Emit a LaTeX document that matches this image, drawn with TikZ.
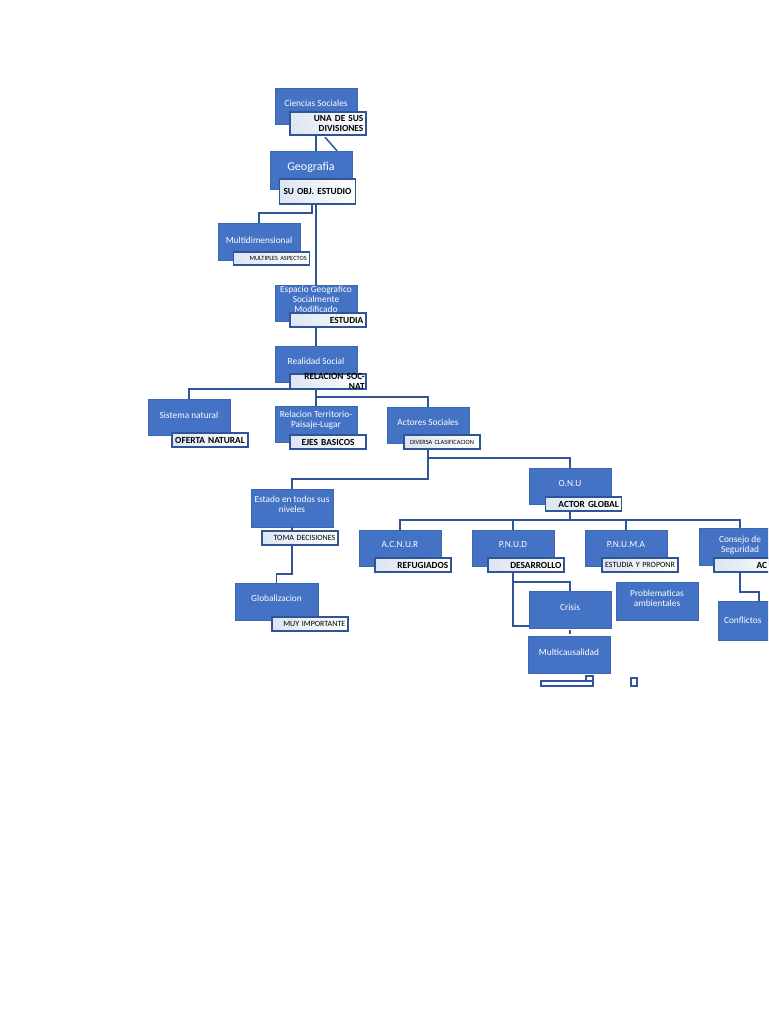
\documentclass[tikz,border=0pt]{standalone}
\usepackage{fontspec}
\setmainfont{Carlito}
\usetikzlibrary{calc}
\definecolor{bfill}{HTML}{4472C4}
\definecolor{lcol}{HTML}{2F5597}
\definecolor{lblfill}{HTML}{DCE5F3}
\tikzset{
  bluebox/.style={rectangle, fill=bfill, draw=bfill!90!black, line width=0.3pt,
    minimum width=61.5pt, minimum height=27pt, inner sep=0pt},
  btext/.style={text=white, font=\fontsize{7}{7.5}\selectfont, align=center, inner sep=0pt},
  lbl/.style={rectangle, draw=lcol, line width=0.9pt, left color=lblfill, right color=white,
    minimum width=57pt, minimum height=10.5pt, inner xsep=2pt, inner ysep=0pt,
    font=\bfseries\fontsize{7}{8}\selectfont, text width=53pt, align=right},
  smalllbl/.style={lbl, font=\fontsize{6}{7}\selectfont},
  tinylbl/.style={lbl, font=\fontsize{4.8}{5.5}\selectfont},
  conn/.style={draw=lcol, line width=1.1pt},
}
\begin{document}
\begin{tikzpicture}[x=0.75pt,y=-0.75pt]
\useasboundingbox (0,0) rectangle (768,1024);
\fill[white] (0,0) rectangle (768,1024);
\clip (0,0) rectangle (768,1024);

\coordinate (csj) at (316,135);
\coordinate (geoj) at (312,204);

% ---------- boxes ----------
\node[bluebox, label={[btext,yshift=2.25pt]center:Ciencias Sociales}] (cs) at (316,106) {};
\node[bluebox, minimum height=28.5pt, label={[btext,font=\fontsize{9}{10}\selectfont,yshift=2.25pt]center:Geografia}] (geo) at (311,170) {};
\node[bluebox, minimum height=27.75pt, label={[btext,yshift=1pt]center:Multidimensional}] (multi) at (259,241.5) {};
\node[bluebox, label={[btext,yshift=2.6pt]center:{Espacio Geografico\\Socialmente\\Modificado}}] (esp) at (316,303) {};
\node[bluebox, label={[btext,yshift=2.25pt]center:Realidad Social}] (real) at (316,364) {};
\node[bluebox, label={[btext,yshift=1.5pt]center:Sistema natural}] (sis) at (189,417) {};
\node[bluebox, label={[btext,yshift=2.8pt]center:{Relacion Territorio-\\Paisaje-Lugar}}] (rel) at (316,424) {};
\node[bluebox, label={[btext,yshift=2.25pt]center:Actores Sociales}] (act) at (428,425) {};
\node[bluebox, label={[btext,yshift=1.5pt]center:O.N.U}] (onu) at (570,486) {};
\node[bluebox, minimum height=28.5pt, label={[btext,yshift=2.6pt]center:{Estado en todos sus\\niveles}}] (est) at (292,508) {};
\node[bluebox, minimum width=62.25pt, minimum height=27.75pt, label={[btext,yshift=2.6pt]center:Globalizacion}] (glob) at (276.5,601.5) {};
\node[bluebox, label={[btext,yshift=2.25pt]center:A.C.N.U.R}] (acnur) at (400,548) {};
\node[bluebox, label={[btext,yshift=2.25pt]center:P.N.U.D}] (pnud) at (513,548) {};
\node[bluebox, label={[btext,yshift=2.25pt]center:P.N.U.M.A}] (pnuma) at (626,548) {};
\node[bluebox, minimum height=27.75pt, label={[btext,yshift=1.2pt]center:{Consejo de\\Seguridad}}] (cons) at (740,546.5) {};
\node[bluebox, minimum height=27.75pt, label={[btext,yshift=1.9pt]center:Crisis}] (crisis) at (570,609.5) {};
\node[bluebox, minimum height=28.5pt, label={[btext,yshift=2.25pt]center:{Problematicas\\ambientales}}] (prob) at (657,601) {};
\node[bluebox, minimum height=27.75pt, label={[btext,yshift=1.9pt]center:Multicausalidad}] (multic) at (569,654.5) {};
\node[bluebox, minimum height=29.25pt, label={[btext,anchor=west,xshift=4.5pt]west:Conflictos}] (conf) at (759,620.5) {};

% ---------- connectors ----------
\draw[conn] (csj) -- (csj |- geo.north);
\draw[conn] ($(cs.south)+(9,13)$) -- ($(geo.north)+(26,0)$);
\draw[conn] (geoj -| esp) -- (esp.north);
\draw[conn] (geoj) |- ($(multi.north)+(0,-10)$) -- (multi.north);
\draw[conn] (esp.south) -- (real.north);
\draw[conn] ($(real.south)+(0,7)$) -- (rel.north);
\draw[conn] ($(real.south)+(0,7)$) -| (sis.north);
\draw[conn] ($(real.south)+(0,15)$) -| (act.north);
\draw[conn] (act.south) -- ++(0,15) -| (onu.north);
\draw[conn] (act.south) -- ++(0,36) -| (est.north);
\draw[conn] (onu.south) -- ++(0,16) -| (acnur.north);
\draw[conn] (onu.south) -- ++(0,16) -| (pnud.north);
\draw[conn] (onu.south) -- ++(0,16) -| (pnuma.north);
\draw[conn] (onu.south) -- ++(0,16) -| (cons.north);
\draw[conn] (pnud.south) |- ($(crisis.south west)+(0,-2)$);
\draw[conn] ($(pnud.south)+(0,16)$) -| (crisis.north);
\draw[conn] ($(crisis.south)+(0,2)$) -- ($(crisis.south |- multic.north)+(0,-2)$);
\draw[conn] (est.south) -- ++(0,47) -| (glob.north);
\draw[conn] (cons.south) -- ++(0,27) -| (conf.north);

% ---------- label boxes ----------
\node[lbl, minimum height=17.25pt] (csl) at (328,123.5) {UNA DE SUS\\DIVISIONES};
\node[lbl, minimum width=56.25pt, minimum height=18.75pt, align=center] (geol) at (317.5,191.5) {SU OBJ. ESTUDIO};
\node[tinylbl, minimum height=9.75pt] (multil) at (271.5,258.5) {MULTIPLES ASPECTOS};
\node[lbl] (espl) at (328,320) {ESTUDIA};
\node[lbl, minimum height=11.25pt, label={[font=\bfseries\fontsize{7}{7.5}\selectfont, text width=55pt, align=right, inner sep=0pt]center:{RELACION SOC-\\NAT}}] (reall) at (328,381.5) {};
\node[lbl, align=center] (sisl) at (210,440) {OFERTA NATURAL};
\node[lbl, align=center] (rell) at (328,442) {EJES BASICOS};
\node[tinylbl, align=center] (actl) at (442,442) {DIVERSA CLASIFICACION};
\node[lbl, minimum width=56.25pt] (onul) at (583.5,504) {ACTOR GLOBAL};
\node[smalllbl] (estl) at (300,538) {TOMA DECISIONES};
\node[smalllbl] (globl) at (310,624) {MUY IMPORTANTE};
\node[lbl] (acnurl) at (413,565) {REFUGIADOS};
\node[lbl] (pnudl) at (526,565) {DESARROLLO};
\node[smalllbl, align=center] (pnumal) at (640,565) {ESTUDIA Y PROPONR};
\node[lbl, align=left] (consl) at (752,565) {\hspace*{30pt}AC};

% ---------- small leftover shapes ----------
\draw[lcol, line width=0.8pt] (541,681) rectangle (593,686);
\draw[lcol, line width=0.8pt] (586,676) rectangle (593,681);
\draw[lcol, line width=0.8pt] (631,678) rectangle (637,686);
\end{tikzpicture}
\end{document}
